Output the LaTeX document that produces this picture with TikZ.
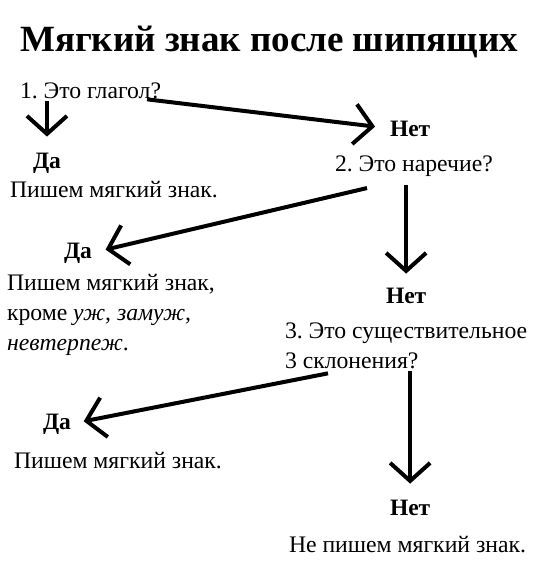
\documentclass[tikz,border=0pt]{standalone}
\usepackage{fontspec}
\setmainfont{Liberation Serif}
\usetikzlibrary{arrows.meta,positioning}
\frenchspacing

\begin{document}
\begin{tikzpicture}[x=1pt,y=-1pt,
            txt/.style={inner sep=0pt,outer sep=0pt,anchor=base west,font=\fontsize{23.7}{30}\selectfont,align=left},
            ans/.style={txt,font=\fontsize{23.5}{30}\selectfont\bfseries},
            arr/.style={line width=4pt,-{Straight Barb[length=18pt,width=40pt]}}]

        \useasboundingbox (0,0) rectangle (546,575);

        % Title
        \node[inner sep=0pt,anchor=base,font=\fontsize{37}{40}\selectfont\bfseries] (title) at (269,52) {Мягкий знак после шипящих};

        % Define vertices
        \node[txt] (q1) at (20,99) {1. Это глагол?};
        \node[ans] (yes1) at (33,168) {Да};
        \node[txt] (do1) at (10,197) {Пишем мягкий знак.};
        \node[ans] (no1) at (390,136) {Нет};
        \node[txt] (q2) at (335,171) {2. Это наречие?};
        \node[ans] (yes2) at (64,258) {Да};
        \node[txt] (do2) at (7,350) {Пишем мягкий знак,\\кроме \textit{уж, замуж,}\\\textit{невтерпеж}.};
        \node[ans] (no2) at (386,303) {Нет};
        \node[txt] (q3) at (285,368) {3. Это существительное\\3 склонения?};
        \node[ans] (yes3) at (43,429) {Да};
        \node[txt] (do3) at (14,468) {Пишем мягкий знак.};
        \node[ans] (no3) at (390,515) {Нет};
        \node[txt] (do4) at (289,552) {Не пишем мягкий знак.};

        % Draw edges
        \path[arr]
            (yes1.north |- q1.south) edge[shorten <=2pt,shorten >=16pt] (yes1.north)
            ([xshift=-14pt]q1.south east) edge[shorten >=15pt] (no1.west)
            ([xshift=32pt,yshift=-12pt]q2.south west) edge[shorten >=14pt] (yes2.east)
            (no2.north |- q2.south) edge[shorten <=9pt,shorten >=14pt] (no2.north)
            ([xshift=43pt,yshift=-5pt]q3.south west) edge[shorten >=13pt] (yes3.east)
            (no3.north |- q3.south) edge[shorten <=3pt,shorten >=16pt] (no3.north);

\end{tikzpicture}
\end{document}
